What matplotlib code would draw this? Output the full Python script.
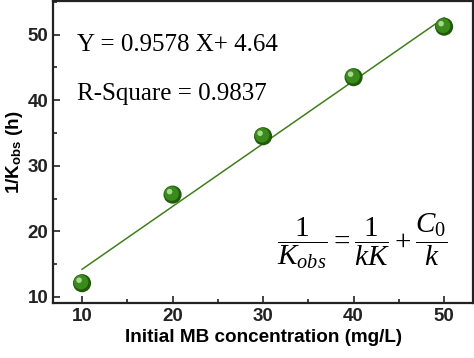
import numpy as np
import matplotlib.pyplot as plt
from matplotlib.ticker import MultipleLocator
from matplotlib.transforms import offset_copy

# data
conc = [10, 20, 30, 40, 50]
inv_kobs = [12.1, 25.6, 34.5, 43.5, 51.2]
slope, intercept = 0.9578, 4.64
r_square = 0.9837

plt.rcParams['font.family'] = 'Liberation Sans'
plt.rcParams['mathtext.fontset'] = 'custom'
plt.rcParams['mathtext.rm'] = 'Liberation Serif'
plt.rcParams['mathtext.it'] = 'Liberation Serif:italic'
plt.rcParams['mathtext.bf'] = 'Liberation Sans:bold'

fig = plt.figure(figsize=(4.74, 3.58), dpi=100)
ax = fig.add_axes([0.112, 0.154, 0.886, 0.843])

# fitted line
xf = np.array([conc[0], conc[-1]])
ax.plot(xf, slope * xf + intercept, color='#3f7f1a', lw=1.1, zorder=2)

# green "sphere" markers: dark ball, lighter body, small highlight up-left
ax.scatter(conc, inv_kobs, s=170, color='#1f5a0a', edgecolors='none', zorder=3)
body = offset_copy(ax.transData, fig=fig, x=-1, y=1, units='dots')
ax.scatter(conc, inv_kobs, s=110, color='#3a8a1c', edgecolors='none',
           zorder=4, transform=body)
hl = offset_copy(ax.transData, fig=fig, x=-3, y=3, units='dots')
ax.scatter(conc, inv_kobs, s=16, color='#a8d890', edgecolors='none',
           zorder=5, transform=hl)

ax.set_xlim(6.8, 53.2)
ax.set_ylim(9.1, 55.1)
ax.xaxis.set_major_locator(MultipleLocator(10))
ax.xaxis.set_minor_locator(MultipleLocator(5))
ax.yaxis.set_major_locator(MultipleLocator(10))
ax.yaxis.set_minor_locator(MultipleLocator(5))
ax.tick_params(which='both', direction='in', top=False, right=False,
               labelsize=13.5, width=1.2, colors='#222222')
ax.tick_params(which='major', length=5)
ax.tick_params(which='minor', length=3)
for lab in ax.get_xticklabels() + ax.get_yticklabels():
    lab.set_fontweight('bold')
for sp in ax.spines.values():
    sp.set_linewidth(1.6)
    sp.set_color('#222222')

ax.set_xlabel('Initial MB concentration (mg/L)', fontsize=13.6,
              fontweight='bold', labelpad=3)
ax.set_ylabel(r'1/K$_{\mathbf{obs}}$ (h)', fontsize=13.6,
              fontweight='bold', labelpad=2)

serif = 'Liberation Serif'
ax.text(0.058, 0.835, f'Y = {slope} X+ {intercept}', transform=ax.transAxes,
        family=serif, fontsize=18, va='baseline')
ax.text(0.058, 0.672, f'R-Square = {r_square}', transform=ax.transAxes,
        family=serif, fontsize=18, va='baseline')
ax.text(0.735, 0.205, r'$\dfrac{1}{K_{obs}}=\dfrac{1}{kK}+\dfrac{C_0}{k}$',
        transform=ax.transAxes, fontsize=21, ha='center', va='center')

fig.savefig('out.png', dpi=100)
